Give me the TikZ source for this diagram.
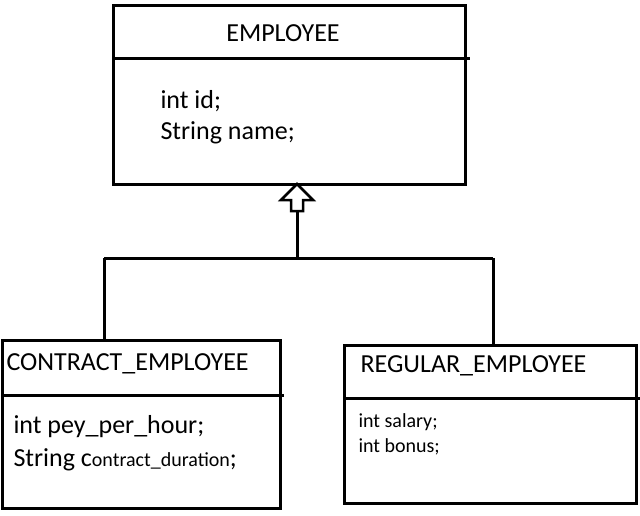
\documentclass[tikz,border=0pt]{standalone}
\usepackage{fontspec}
\setmainfont{Carlito}
\usetikzlibrary{calc}
\begin{document}
\begin{tikzpicture}[x=1pt,y=-1pt,line width=3pt,
    big/.style={font=\fontsize{26}{30}\selectfont,inner sep=0pt,anchor=west},
    small/.style={font=\fontsize{20}{24}\selectfont,inner sep=0pt,anchor=west}]
    \useasboundingbox (0,0) rectangle (640,515);

    % Employee
    \draw (113,5) rectangle (465,184);
    \draw (113,58) -- (470,58);
    \node[big,anchor=center] (emp) at (283,33) {EMPLOYEE};
    \node[big] (empid) at (159,101) {int id;};
    \node[big] (empname) at (159,133) {String name;};

    % Inheritance arrow
    \draw[line width=2.5pt,line join=miter] (297,184) -- (313,200) -- (303,200) -- (303,211)
        -- (291,211) -- (291,200) -- (281,200) -- cycle;
    \coordinate (stem) at (297,211);
    \coordinate (joint) at (297,258);
    \draw (stem) -- (joint);
    \draw (104,258) -- (493,258);
    \draw (104,258) -- (104,340);
    \draw (493,258) -- (493,345);

    % Contract employee
    \draw (2,340) rectangle (280,508);
    \draw (2,395) -- (284,395);
    \node[big] (con) at (5,364) {CONTRACT\_EMPLOYEE};
    \node[big] (conpay) at (12,427) {int pey\_per\_hour;};
    \node[big] (condur) at (12,460) {String c{\fontsize{20}{24}\selectfont ontract\_duration};};

    % Regular employee
    \draw (344,345) rectangle (636,503);
    \draw (344,398) -- (640,398);
    \node[big] (reg) at (359,366) {REGULAR\_EMPLOYEE};
    \node[small] (regsal) at (357,422) {int salary;};
    \node[small] (regbon) at (357,447) {int bonus;};
\end{tikzpicture}
\end{document}
